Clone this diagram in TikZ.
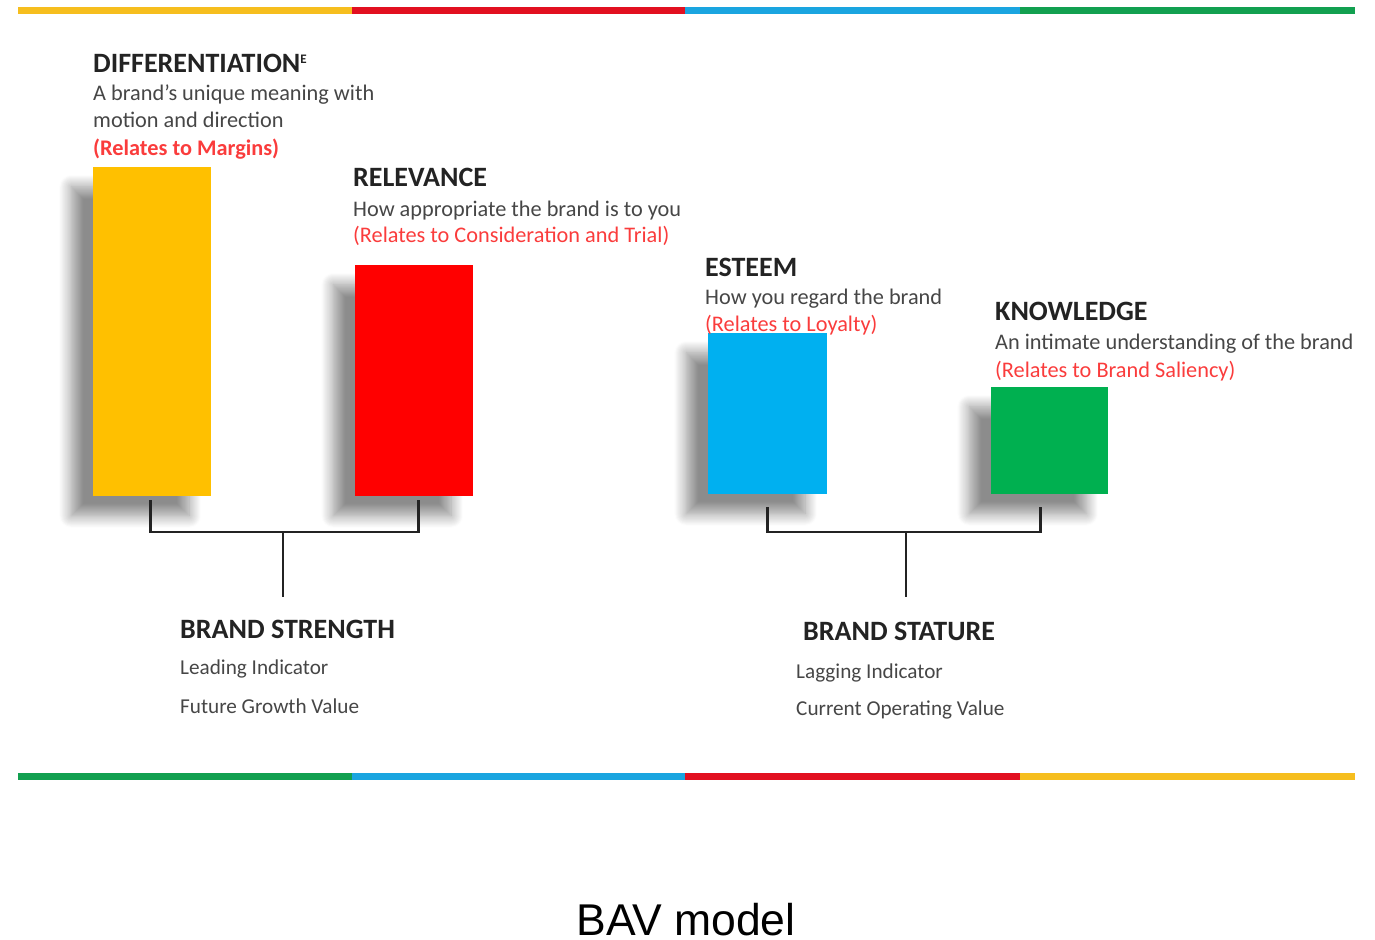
\documentclass[tikz,border=0pt]{standalone}
\usepackage{fontspec}
\setmainfont{Carlito}
\newfontfamily\captionfont{Liberation Sans}
\usepackage{tikz}
\usetikzlibrary{positioning, calc, shadows.blur}

\definecolor{bavyellow}{RGB}{255, 192, 0}
\definecolor{bavred}{RGB}{255, 0, 0}
\definecolor{bavblue}{RGB}{0, 176, 240}
\definecolor{bavgreen}{RGB}{0, 176, 80}
\definecolor{lineyellow}{RGB}{246, 190, 30}
\definecolor{linered}{RGB}{226, 16, 32}
\definecolor{lineblue}{RGB}{26, 165, 224}
\definecolor{linegreen}{RGB}{18, 160, 80}
\definecolor{notered}{RGB}{250, 60, 60}
\definecolor{titlegray}{RGB}{35, 35, 35}
\definecolor{bodygray}{RGB}{70, 70, 70}

\tikzset{
  bar/.style={anchor=south west, minimum width=118pt, inner sep=0pt,
    blur shadow={shadow xshift=-22pt, shadow yshift=-20pt, shadow blur radius=12pt,
      shadow blur steps=12, shadow opacity=45}},
  title/.style={anchor=base west, inner sep=0pt, text=titlegray, font=\fontsize{28}{30}\selectfont\bfseries},
  body/.style={anchor=base west, inner sep=0pt, text=bodygray, font=\fontsize{22.3}{25}\selectfont},
  lower/.style={body, font=\fontsize{21.2}{24}\selectfont},
  note/.style={body, text=notered},
  stripe/.style={line width=7pt},
  bracket/.style={line width=2.6pt, draw=titlegray}
}

\begin{document}
\begin{tikzpicture}[x=1pt, y=-1pt]
  \useasboundingbox (0,0) rectangle (1375,939);

  % colour stripes top and bottom
  \coordinate (t0) at (18,10.5);  \coordinate (t1) at (352,10.5);
  \coordinate (t2) at (685,10.5); \coordinate (t3) at (1020,10.5);
  \coordinate (t4) at (1355,10.5);
  \draw[stripe, lineyellow] (t0) -- (t1);
  \draw[stripe, linered] (t1) -- (t2);
  \draw[stripe, lineblue] (t2) -- (t3);
  \draw[stripe, linegreen] (t3) -- (t4);
  \coordinate (b0) at (18,776);  \coordinate (b1) at (352,776);
  \coordinate (b2) at (685,776); \coordinate (b3) at (1020,776);
  \coordinate (b4) at (1355,776);
  \draw[stripe, linegreen] (b0) -- (b1);
  \draw[stripe, lineblue] (b1) -- (b2);
  \draw[stripe, linered] (b2) -- (b3);
  \draw[stripe, lineyellow] (b3) -- (b4);

  % the four pillars
  \node[bar, fill=bavyellow, minimum height=329pt] (diff) at (93,496) {};
  \node[bar, fill=bavred, minimum height=231pt] (rel) at (355,496) {};
  \node[bar, fill=bavblue, minimum height=161pt, minimum width=119pt] (est) at (708,494) {};
  \node[bar, fill=bavgreen, minimum height=107pt, minimum width=117pt] (know) at (991,494) {};

  % pillar labels
  \node[title] (difft) at (93,73) {DIFFERENTIATION\textsuperscript{\fontsize{13}{13}\selectfont E}};
  \node[body] (diffa) at (93,101) {A brand’s unique meaning with};
  \node[body] (diffb) at (93,128) {motion and direction};
  \node[note, font=\fontsize{22.3}{25}\selectfont\bfseries] (diffn) at (93,155) {(Relates to Margins)};

  \node[title] (relt) at (353,186) {RELEVANCE};
  \node[body] (rela) at (353,216) {How appropriate the brand is to you};
  \node[note] (reln) at (353,242) {(Relates to Consideration and Trial)};

  \node[title] (estt) at (705,276) {ESTEEM};
  \node[body] (esta) at (705,304) {How you regard the brand};
  \node[note] (estn) at (705,331) {(Relates to Loyalty)};

  \node[title] (knowt) at (995,320) {KNOWLEDGE};
  \node[body] (knowa) at (995,349) {An intimate understanding of the brand};
  \node[note] (known) at (995,377) {(Relates to Brand Saliency)};

  % groups
  \node[title] (strength) at (180,638) {BRAND STRENGTH};
  \node[lower] (strengtha) at (180,674) {Leading Indicator};
  \node[lower] (strengthb) at (180,713) {Future Growth Value};

  \node[title] (stature) at (803,640) {BRAND STATURE};
  \node[lower] (staturea) at (796,678) {Lagging Indicator};
  \node[lower] (statureb) at (796,715) {Current Operating Value};

  % brackets
  \coordinate (sjoin) at (283,532);
  \coordinate (sstem) at (283,597);
  \coordinate (tjoin) at (906,532);
  \coordinate (tstem) at (906,597);
  \draw[bracket] ([xshift=-2pt, yshift=-4pt]diff.south) |- (sjoin) -| ([xshift=4pt, yshift=-4pt]rel.south);
  \draw[bracket] (sjoin) -- (sstem);
  \draw[bracket] ([yshift=-13pt]est.south) |- (tjoin) -| ([xshift=-9pt, yshift=-13pt]know.south);
  \draw[bracket] (tjoin) -- (tstem);

  % caption
  \node[anchor=base, inner sep=0pt, font=\captionfont\fontsize{44.5}{48}\selectfont] (caption) at (686,935) {BAV model};
\end{tikzpicture}
\end{document}
